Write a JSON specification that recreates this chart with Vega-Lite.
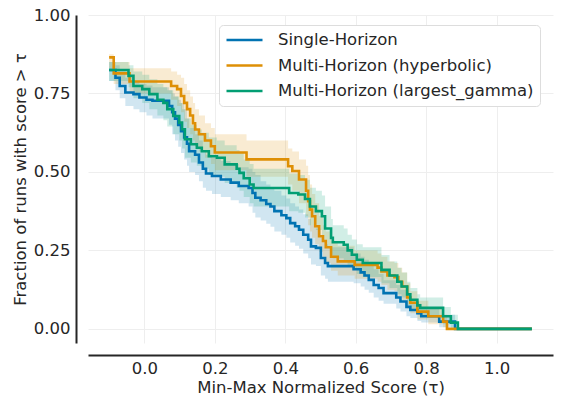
{
  "$schema": "https://vega.github.io/schema/vega-lite/v6.json",
  "width": 465,
  "height": 328,
  "autosize": {"type": "none"},
  "padding": {"left": 88, "top": 15, "right": 15, "bottom": 65},
  "background": "white",
  "config": {
    "font": "DejaVu Sans",
    "view": {"stroke": null},
    "axis": {
      "labelFont": "DejaVu Sans",
      "titleFont": "DejaVu Sans",
      "labelFontSize": 16.5,
      "titleFontSize": 16.5,
      "titleFontWeight": "normal",
      "labelColor": "#262626",
      "titleColor": "#262626",
      "domainColor": "#262626",
      "domainWidth": 2,
      "ticks": false,
      "gridColor": "#eeeeee",
      "gridWidth": 1
    },
    "legend": {
      "labelFont": "DejaVu Sans",
      "labelFontSize": 16.5,
      "labelColor": "#262626"
    }
  },
  "data": {
    "values": [
      {"method": "Single-Horizon", "score": -0.1, "frac": 0.825, "lo": 0.79, "hi": 0.85},
      {"method": "Single-Horizon", "score": -0.082, "frac": 0.80, "lo": 0.76, "hi": 0.84},
      {"method": "Single-Horizon", "score": -0.070, "frac": 0.774, "lo": 0.735, "hi": 0.82},
      {"method": "Single-Horizon", "score": -0.054, "frac": 0.753, "lo": 0.71, "hi": 0.80},
      {"method": "Single-Horizon", "score": -0.031, "frac": 0.748, "lo": 0.70, "hi": 0.79},
      {"method": "Single-Horizon", "score": -0.014, "frac": 0.737, "lo": 0.69, "hi": 0.78},
      {"method": "Single-Horizon", "score": 0.006, "frac": 0.73, "lo": 0.68, "hi": 0.775},
      {"method": "Single-Horizon", "score": 0.023, "frac": 0.727, "lo": 0.67, "hi": 0.77},
      {"method": "Single-Horizon", "score": 0.070, "frac": 0.71, "lo": 0.65, "hi": 0.76},
      {"method": "Single-Horizon", "score": 0.079, "frac": 0.69, "lo": 0.62, "hi": 0.75},
      {"method": "Single-Horizon", "score": 0.087, "frac": 0.67, "lo": 0.60, "hi": 0.74},
      {"method": "Single-Horizon", "score": 0.096, "frac": 0.65, "lo": 0.58, "hi": 0.73},
      {"method": "Single-Horizon", "score": 0.104, "frac": 0.63, "lo": 0.56, "hi": 0.72},
      {"method": "Single-Horizon", "score": 0.113, "frac": 0.61, "lo": 0.54, "hi": 0.70},
      {"method": "Single-Horizon", "score": 0.121, "frac": 0.59, "lo": 0.52, "hi": 0.67},
      {"method": "Single-Horizon", "score": 0.127, "frac": 0.566, "lo": 0.50, "hi": 0.64},
      {"method": "Single-Horizon", "score": 0.144, "frac": 0.555, "lo": 0.49, "hi": 0.62},
      {"method": "Single-Horizon", "score": 0.155, "frac": 0.53, "lo": 0.47, "hi": 0.60},
      {"method": "Single-Horizon", "score": 0.166, "frac": 0.51, "lo": 0.45, "hi": 0.57},
      {"method": "Single-Horizon", "score": 0.175, "frac": 0.495, "lo": 0.44, "hi": 0.555},
      {"method": "Single-Horizon", "score": 0.192, "frac": 0.487, "lo": 0.43, "hi": 0.545},
      {"method": "Single-Horizon", "score": 0.217, "frac": 0.476, "lo": 0.42, "hi": 0.535},
      {"method": "Single-Horizon", "score": 0.245, "frac": 0.466, "lo": 0.41, "hi": 0.525},
      {"method": "Single-Horizon", "score": 0.268, "frac": 0.455, "lo": 0.40, "hi": 0.515},
      {"method": "Single-Horizon", "score": 0.296, "frac": 0.449, "lo": 0.39, "hi": 0.51},
      {"method": "Single-Horizon", "score": 0.307, "frac": 0.433, "lo": 0.37, "hi": 0.50},
      {"method": "Single-Horizon", "score": 0.315, "frac": 0.418, "lo": 0.355, "hi": 0.49},
      {"method": "Single-Horizon", "score": 0.330, "frac": 0.41, "lo": 0.345, "hi": 0.47},
      {"method": "Single-Horizon", "score": 0.346, "frac": 0.398, "lo": 0.335, "hi": 0.46},
      {"method": "Single-Horizon", "score": 0.358, "frac": 0.39, "lo": 0.325, "hi": 0.45},
      {"method": "Single-Horizon", "score": 0.369, "frac": 0.375, "lo": 0.31, "hi": 0.44},
      {"method": "Single-Horizon", "score": 0.389, "frac": 0.362, "lo": 0.30, "hi": 0.425},
      {"method": "Single-Horizon", "score": 0.403, "frac": 0.353, "lo": 0.29, "hi": 0.415},
      {"method": "Single-Horizon", "score": 0.414, "frac": 0.337, "lo": 0.275, "hi": 0.40},
      {"method": "Single-Horizon", "score": 0.428, "frac": 0.327, "lo": 0.265, "hi": 0.39},
      {"method": "Single-Horizon", "score": 0.439, "frac": 0.316, "lo": 0.255, "hi": 0.38},
      {"method": "Single-Horizon", "score": 0.451, "frac": 0.30, "lo": 0.24, "hi": 0.365},
      {"method": "Single-Horizon", "score": 0.465, "frac": 0.284, "lo": 0.225, "hi": 0.35},
      {"method": "Single-Horizon", "score": 0.473, "frac": 0.263, "lo": 0.205, "hi": 0.33},
      {"method": "Single-Horizon", "score": 0.487, "frac": 0.258, "lo": 0.20, "hi": 0.32},
      {"method": "Single-Horizon", "score": 0.501, "frac": 0.226, "lo": 0.17, "hi": 0.29},
      {"method": "Single-Horizon", "score": 0.513, "frac": 0.21, "lo": 0.16, "hi": 0.27},
      {"method": "Single-Horizon", "score": 0.521, "frac": 0.20, "lo": 0.15, "hi": 0.26},
      {"method": "Single-Horizon", "score": 0.594, "frac": 0.19, "lo": 0.145, "hi": 0.24},
      {"method": "Single-Horizon", "score": 0.614, "frac": 0.18, "lo": 0.135, "hi": 0.23},
      {"method": "Single-Horizon", "score": 0.625, "frac": 0.17, "lo": 0.125, "hi": 0.22},
      {"method": "Single-Horizon", "score": 0.637, "frac": 0.156, "lo": 0.115, "hi": 0.205},
      {"method": "Single-Horizon", "score": 0.651, "frac": 0.14, "lo": 0.10, "hi": 0.19},
      {"method": "Single-Horizon", "score": 0.665, "frac": 0.13, "lo": 0.09, "hi": 0.175},
      {"method": "Single-Horizon", "score": 0.679, "frac": 0.114, "lo": 0.08, "hi": 0.155},
      {"method": "Single-Horizon", "score": 0.715, "frac": 0.10, "lo": 0.065, "hi": 0.14},
      {"method": "Single-Horizon", "score": 0.727, "frac": 0.087, "lo": 0.055, "hi": 0.125},
      {"method": "Single-Horizon", "score": 0.744, "frac": 0.07, "lo": 0.04, "hi": 0.105},
      {"method": "Single-Horizon", "score": 0.755, "frac": 0.06, "lo": 0.035, "hi": 0.09},
      {"method": "Single-Horizon", "score": 0.775, "frac": 0.05, "lo": 0.025, "hi": 0.08},
      {"method": "Single-Horizon", "score": 0.786, "frac": 0.04, "lo": 0.02, "hi": 0.065},
      {"method": "Single-Horizon", "score": 0.837, "frac": 0.023, "lo": 0.005, "hi": 0.045},
      {"method": "Single-Horizon", "score": 0.882, "frac": 0.0, "lo": 0.0, "hi": 0.0},
      {"method": "Single-Horizon", "score": 1.1, "frac": 0.0, "lo": 0.0, "hi": 0.0},

      {"method": "Multi-Horizon (hyperbolic)", "score": -0.1, "frac": 0.865, "lo": 0.83, "hi": 0.875},
      {"method": "Multi-Horizon (hyperbolic)", "score": -0.087, "frac": 0.814, "lo": 0.78, "hi": 0.85},
      {"method": "Multi-Horizon (hyperbolic)", "score": -0.042, "frac": 0.788, "lo": 0.75, "hi": 0.83},
      {"method": "Multi-Horizon (hyperbolic)", "score": 0.076, "frac": 0.774, "lo": 0.73, "hi": 0.82},
      {"method": "Multi-Horizon (hyperbolic)", "score": 0.093, "frac": 0.764, "lo": 0.71, "hi": 0.81},
      {"method": "Multi-Horizon (hyperbolic)", "score": 0.104, "frac": 0.742, "lo": 0.69, "hi": 0.80},
      {"method": "Multi-Horizon (hyperbolic)", "score": 0.113, "frac": 0.72, "lo": 0.66, "hi": 0.78},
      {"method": "Multi-Horizon (hyperbolic)", "score": 0.121, "frac": 0.70, "lo": 0.64, "hi": 0.76},
      {"method": "Multi-Horizon (hyperbolic)", "score": 0.130, "frac": 0.68, "lo": 0.62, "hi": 0.74},
      {"method": "Multi-Horizon (hyperbolic)", "score": 0.138, "frac": 0.655, "lo": 0.60, "hi": 0.72},
      {"method": "Multi-Horizon (hyperbolic)", "score": 0.144, "frac": 0.635, "lo": 0.58, "hi": 0.70},
      {"method": "Multi-Horizon (hyperbolic)", "score": 0.155, "frac": 0.62, "lo": 0.565, "hi": 0.68},
      {"method": "Multi-Horizon (hyperbolic)", "score": 0.172, "frac": 0.60, "lo": 0.545, "hi": 0.655},
      {"method": "Multi-Horizon (hyperbolic)", "score": 0.189, "frac": 0.582, "lo": 0.525, "hi": 0.64},
      {"method": "Multi-Horizon (hyperbolic)", "score": 0.200, "frac": 0.562, "lo": 0.505, "hi": 0.62},
      {"method": "Multi-Horizon (hyperbolic)", "score": 0.290, "frac": 0.54, "lo": 0.485, "hi": 0.60},
      {"method": "Multi-Horizon (hyperbolic)", "score": 0.408, "frac": 0.518, "lo": 0.46, "hi": 0.575},
      {"method": "Multi-Horizon (hyperbolic)", "score": 0.420, "frac": 0.503, "lo": 0.44, "hi": 0.565},
      {"method": "Multi-Horizon (hyperbolic)", "score": 0.439, "frac": 0.476, "lo": 0.40, "hi": 0.54},
      {"method": "Multi-Horizon (hyperbolic)", "score": 0.459, "frac": 0.44, "lo": 0.36, "hi": 0.52},
      {"method": "Multi-Horizon (hyperbolic)", "score": 0.465, "frac": 0.407, "lo": 0.33, "hi": 0.49},
      {"method": "Multi-Horizon (hyperbolic)", "score": 0.470, "frac": 0.38, "lo": 0.31, "hi": 0.46},
      {"method": "Multi-Horizon (hyperbolic)", "score": 0.476, "frac": 0.359, "lo": 0.29, "hi": 0.43},
      {"method": "Multi-Horizon (hyperbolic)", "score": 0.485, "frac": 0.327, "lo": 0.27, "hi": 0.40},
      {"method": "Multi-Horizon (hyperbolic)", "score": 0.496, "frac": 0.295, "lo": 0.245, "hi": 0.36},
      {"method": "Multi-Horizon (hyperbolic)", "score": 0.507, "frac": 0.28, "lo": 0.23, "hi": 0.33},
      {"method": "Multi-Horizon (hyperbolic)", "score": 0.515, "frac": 0.26, "lo": 0.21, "hi": 0.31},
      {"method": "Multi-Horizon (hyperbolic)", "score": 0.530, "frac": 0.23, "lo": 0.185, "hi": 0.28},
      {"method": "Multi-Horizon (hyperbolic)", "score": 0.549, "frac": 0.215, "lo": 0.17, "hi": 0.265},
      {"method": "Multi-Horizon (hyperbolic)", "score": 0.597, "frac": 0.204, "lo": 0.16, "hi": 0.25},
      {"method": "Multi-Horizon (hyperbolic)", "score": 0.662, "frac": 0.195, "lo": 0.15, "hi": 0.24},
      {"method": "Multi-Horizon (hyperbolic)", "score": 0.673, "frac": 0.183, "lo": 0.14, "hi": 0.23},
      {"method": "Multi-Horizon (hyperbolic)", "score": 0.690, "frac": 0.17, "lo": 0.125, "hi": 0.215},
      {"method": "Multi-Horizon (hyperbolic)", "score": 0.710, "frac": 0.165, "lo": 0.12, "hi": 0.21},
      {"method": "Multi-Horizon (hyperbolic)", "score": 0.721, "frac": 0.15, "lo": 0.105, "hi": 0.195},
      {"method": "Multi-Horizon (hyperbolic)", "score": 0.732, "frac": 0.135, "lo": 0.09, "hi": 0.18},
      {"method": "Multi-Horizon (hyperbolic)", "score": 0.746, "frac": 0.10, "lo": 0.065, "hi": 0.145},
      {"method": "Multi-Horizon (hyperbolic)", "score": 0.755, "frac": 0.083, "lo": 0.05, "hi": 0.12},
      {"method": "Multi-Horizon (hyperbolic)", "score": 0.775, "frac": 0.055, "lo": 0.03, "hi": 0.09},
      {"method": "Multi-Horizon (hyperbolic)", "score": 0.806, "frac": 0.04, "lo": 0.015, "hi": 0.065},
      {"method": "Multi-Horizon (hyperbolic)", "score": 0.848, "frac": 0.023, "lo": 0.005, "hi": 0.045},
      {"method": "Multi-Horizon (hyperbolic)", "score": 0.859, "frac": 0.0, "lo": 0.0, "hi": 0.0},
      {"method": "Multi-Horizon (hyperbolic)", "score": 1.1, "frac": 0.0, "lo": 0.0, "hi": 0.0},

      {"method": "Multi-Horizon (largest_gamma)", "score": -0.1, "frac": 0.825, "lo": 0.79, "hi": 0.85},
      {"method": "Multi-Horizon (largest_gamma)", "score": -0.045, "frac": 0.806, "lo": 0.77, "hi": 0.84},
      {"method": "Multi-Horizon (largest_gamma)", "score": -0.031, "frac": 0.774, "lo": 0.735, "hi": 0.82},
      {"method": "Multi-Horizon (largest_gamma)", "score": -0.006, "frac": 0.764, "lo": 0.72, "hi": 0.81},
      {"method": "Multi-Horizon (largest_gamma)", "score": 0.014, "frac": 0.748, "lo": 0.70, "hi": 0.795},
      {"method": "Multi-Horizon (largest_gamma)", "score": 0.037, "frac": 0.73, "lo": 0.68, "hi": 0.78},
      {"method": "Multi-Horizon (largest_gamma)", "score": 0.054, "frac": 0.72, "lo": 0.665, "hi": 0.77},
      {"method": "Multi-Horizon (largest_gamma)", "score": 0.065, "frac": 0.70, "lo": 0.645, "hi": 0.76},
      {"method": "Multi-Horizon (largest_gamma)", "score": 0.082, "frac": 0.678, "lo": 0.62, "hi": 0.74},
      {"method": "Multi-Horizon (largest_gamma)", "score": 0.099, "frac": 0.657, "lo": 0.60, "hi": 0.72},
      {"method": "Multi-Horizon (largest_gamma)", "score": 0.107, "frac": 0.636, "lo": 0.575, "hi": 0.70},
      {"method": "Multi-Horizon (largest_gamma)", "score": 0.115, "frac": 0.604, "lo": 0.545, "hi": 0.67},
      {"method": "Multi-Horizon (largest_gamma)", "score": 0.132, "frac": 0.588, "lo": 0.53, "hi": 0.65},
      {"method": "Multi-Horizon (largest_gamma)", "score": 0.149, "frac": 0.577, "lo": 0.52, "hi": 0.635},
      {"method": "Multi-Horizon (largest_gamma)", "score": 0.163, "frac": 0.566, "lo": 0.51, "hi": 0.625},
      {"method": "Multi-Horizon (largest_gamma)", "score": 0.183, "frac": 0.55, "lo": 0.49, "hi": 0.61},
      {"method": "Multi-Horizon (largest_gamma)", "score": 0.206, "frac": 0.545, "lo": 0.485, "hi": 0.60},
      {"method": "Multi-Horizon (largest_gamma)", "score": 0.228, "frac": 0.524, "lo": 0.465, "hi": 0.585},
      {"method": "Multi-Horizon (largest_gamma)", "score": 0.262, "frac": 0.51, "lo": 0.45, "hi": 0.57},
      {"method": "Multi-Horizon (largest_gamma)", "score": 0.270, "frac": 0.497, "lo": 0.44, "hi": 0.56},
      {"method": "Multi-Horizon (largest_gamma)", "score": 0.282, "frac": 0.48, "lo": 0.42, "hi": 0.54},
      {"method": "Multi-Horizon (largest_gamma)", "score": 0.299, "frac": 0.46, "lo": 0.40, "hi": 0.525},
      {"method": "Multi-Horizon (largest_gamma)", "score": 0.310, "frac": 0.449, "lo": 0.39, "hi": 0.51},
      {"method": "Multi-Horizon (largest_gamma)", "score": 0.411, "frac": 0.433, "lo": 0.375, "hi": 0.495},
      {"method": "Multi-Horizon (largest_gamma)", "score": 0.437, "frac": 0.428, "lo": 0.37, "hi": 0.49},
      {"method": "Multi-Horizon (largest_gamma)", "score": 0.456, "frac": 0.414, "lo": 0.355, "hi": 0.475},
      {"method": "Multi-Horizon (largest_gamma)", "score": 0.470, "frac": 0.39, "lo": 0.33, "hi": 0.45},
      {"method": "Multi-Horizon (largest_gamma)", "score": 0.487, "frac": 0.375, "lo": 0.315, "hi": 0.44},
      {"method": "Multi-Horizon (largest_gamma)", "score": 0.504, "frac": 0.359, "lo": 0.29, "hi": 0.425},
      {"method": "Multi-Horizon (largest_gamma)", "score": 0.513, "frac": 0.32, "lo": 0.26, "hi": 0.39},
      {"method": "Multi-Horizon (largest_gamma)", "score": 0.530, "frac": 0.29, "lo": 0.235, "hi": 0.35},
      {"method": "Multi-Horizon (largest_gamma)", "score": 0.535, "frac": 0.276, "lo": 0.225, "hi": 0.33},
      {"method": "Multi-Horizon (largest_gamma)", "score": 0.566, "frac": 0.268, "lo": 0.215, "hi": 0.32},
      {"method": "Multi-Horizon (largest_gamma)", "score": 0.577, "frac": 0.25, "lo": 0.20, "hi": 0.30},
      {"method": "Multi-Horizon (largest_gamma)", "score": 0.589, "frac": 0.236, "lo": 0.19, "hi": 0.285},
      {"method": "Multi-Horizon (largest_gamma)", "score": 0.603, "frac": 0.22, "lo": 0.175, "hi": 0.27},
      {"method": "Multi-Horizon (largest_gamma)", "score": 0.620, "frac": 0.21, "lo": 0.165, "hi": 0.26},
      {"method": "Multi-Horizon (largest_gamma)", "score": 0.673, "frac": 0.188, "lo": 0.145, "hi": 0.235},
      {"method": "Multi-Horizon (largest_gamma)", "score": 0.696, "frac": 0.17, "lo": 0.13, "hi": 0.215},
      {"method": "Multi-Horizon (largest_gamma)", "score": 0.718, "frac": 0.15, "lo": 0.11, "hi": 0.195},
      {"method": "Multi-Horizon (largest_gamma)", "score": 0.730, "frac": 0.135, "lo": 0.10, "hi": 0.18},
      {"method": "Multi-Horizon (largest_gamma)", "score": 0.746, "frac": 0.11, "lo": 0.075, "hi": 0.15},
      {"method": "Multi-Horizon (largest_gamma)", "score": 0.755, "frac": 0.093, "lo": 0.06, "hi": 0.13},
      {"method": "Multi-Horizon (largest_gamma)", "score": 0.775, "frac": 0.075, "lo": 0.045, "hi": 0.11},
      {"method": "Multi-Horizon (largest_gamma)", "score": 0.783, "frac": 0.067, "lo": 0.04, "hi": 0.10},
      {"method": "Multi-Horizon (largest_gamma)", "score": 0.848, "frac": 0.04, "lo": 0.015, "hi": 0.07},
      {"method": "Multi-Horizon (largest_gamma)", "score": 0.870, "frac": 0.02, "lo": 0.0, "hi": 0.045},
      {"method": "Multi-Horizon (largest_gamma)", "score": 0.890, "frac": 0.0, "lo": 0.0, "hi": 0.0},
      {"method": "Multi-Horizon (largest_gamma)", "score": 1.1, "frac": 0.0, "lo": 0.0, "hi": 0.0}
    ]
  },
  "encoding": {
    "x": {
      "field": "score",
      "type": "quantitative",
      "title": "Min-Max Normalized Score (τ)",
      "scale": {"domain": [-0.16, 1.16], "nice": false, "zero": false},
      "axis": {
        "values": [0, 0.2, 0.4, 0.6, 0.8, 1.0],
        "format": ".1f",
        "offset": 12,
        "labelPadding": 5,
        "titlePadding": 3
      }
    },
    "color": {
      "field": "method",
      "type": "nominal",
      "title": null,
      "scale": {
        "domain": ["Single-Horizon", "Multi-Horizon (hyperbolic)", "Multi-Horizon (largest_gamma)"],
        "range": ["#0173b2", "#de8f05", "#029e73"]
      },
      "legend": {
        "orient": "none",
        "legendX": 131,
        "legendY": 10,
        "symbolType": "stroke",
        "symbolSize": 1296,
        "symbolStrokeWidth": 2.5,
        "symbolOpacity": 1,
        "clipHeight": 18,
        "rowPadding": 7.5,
        "labelOffset": 14,
        "padding": 6,
        "fillColor": "white",
        "strokeColor": "#dddddd",
        "cornerRadius": 4,
        "labelLimit": 400
      }
    }
  },
  "layer": [
    {
      "mark": {"type": "area", "interpolate": "step-after", "opacity": 0.18},
      "encoding": {
        "y": {
          "field": "hi",
          "type": "quantitative",
          "title": "Fraction of runs with score > τ",
          "scale": {"domain": [-0.045, 1.0], "nice": false, "zero": false},
          "axis": {
            "values": [0, 0.25, 0.5, 0.75, 1.0],
            "format": ".2f",
            "offset": 12,
            "labelPadding": 6,
            "titlePadding": 5
          }
        },
        "y2": {"field": "lo"}
      }
    },
    {
      "mark": {"type": "line", "interpolate": "step-after", "strokeWidth": 2.6},
      "encoding": {
        "y": {"field": "frac", "type": "quantitative"}
      }
    }
  ]
}
